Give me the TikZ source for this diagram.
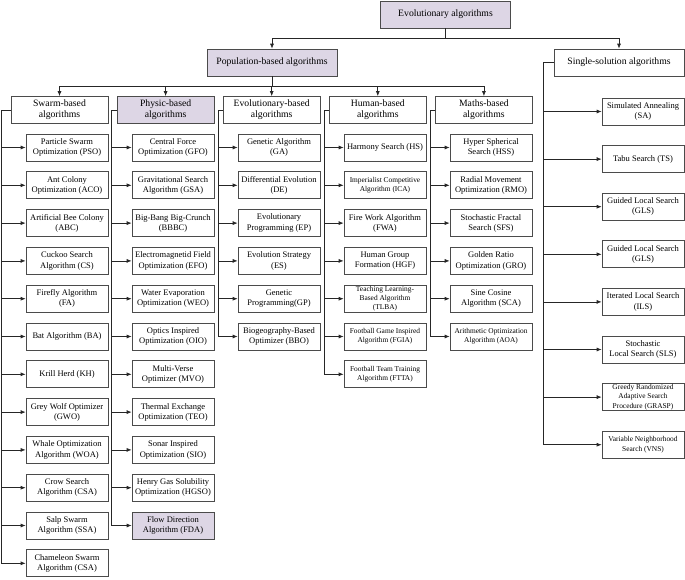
\documentclass[tikz,border=0pt]{standalone}
\usepackage{fontspec}
\setmainfont{Liberation Serif}
\usetikzlibrary{arrows.meta,positioning}

\definecolor{lavender}{RGB}{221,214,229}
\definecolor{boxgray}{RGB}{75,75,75}
\newcommand\hdfont{\fontsize{9.7}{11}\selectfont}
\newcommand\algfont{\fontsize{8.5}{10.3}\selectfont}
\newcommand\smfont{\fontsize{7.4}{9.2}\selectfont}

\tikzset{
  box/.style={draw=boxgray, line width=0.7pt, align=center, inner sep=0pt, minimum height=27pt},
  topbox/.style={box, minimum width=130pt, font=\hdfont},
  catbox/.style={box, minimum width=97pt, font=\hdfont},
  algbox/.style={box, minimum width=82pt, font=\algfont},
  algn/.style={},
  algs/.style={font=\smfont},
  hl/.style={fill=lavender},
  conn/.style={draw=black!85, line width=0.7pt, -{Latex[length=5pt,width=4pt]}},
}

\begin{document}
\begin{tikzpicture}[x=1pt, y=-1pt]
\useasboundingbox (0,0) rectangle (685,579);

    % Top levels
    \node[topbox, hl] (evo) at (445.5,14.5) {Evolutionary algorithms};
    \node[topbox, hl] (pop) at (272,62.5) {Population-based algorithms};
    \node[topbox] (single) at (619,62.5) {Single-solution algorithms};
    \draw[conn] (evo.south) -- ++(0,10) -| (pop.north);
    \draw[conn] (evo.south) -- ++(0,10) -| (single.north);

    % Population-based families
    \foreach \nm/\txt/\sty [count=\i from 0] in {
        swarm/{Swarm-based\\algorithms}/algn,
        physic/{Physic-based\\algorithms}/hl,
        evolb/{Evolutionary-based\\algorithms}/algn,
        human/{Human-based\\algorithms}/algn,
        maths/{Maths-based\\algorithms}/algn} {
      \node[catbox,\sty] (\nm) at (59.5+106.1*\i,110) {\txt};
      \draw[conn] (pop.south) -- ++(0,10) -| (\nm.north);
    }

    % Swarm-based
    \foreach \nm/\txt/\sty [count=\k from 0] in {
        pso/{Particle Swarm\\Optimization (PSO)}/algn,
        aco/{Ant Colony\\Optimization (ACO)}/algn,
        abc/{Artificial Bee Colony\\(ABC)}/algn,
        cs/{Cuckoo Search\\Algorithm (CS)}/algn,
        fa/{Firefly Algorithm\\(FA)}/algn,
        ba/{Bat Algorithm (BA)}/algn,
        kh/{Krill Herd (KH)}/algn,
        gwo/{Grey Wolf Optimizer\\(GWO)}/algn,
        woa/{Whale Optimization\\Algorithm (WOA)}/algn,
        crow/{Crow Search\\Algorithm (CSA)}/algn,
        ssa/{Salp Swarm\\Algorithm (SSA)}/algn,
        cham/{Chameleon Swarm\\Algorithm (CSA)}/algn} {
      \node[algbox,\sty] (\nm) at (67,147.5+37.8*\k) {\txt};
      \draw[conn] (swarm.west) -- ++(-9.5,0) |- (\nm.west);
    }

    % Physic-based
    \foreach \nm/\txt/\sty [count=\k from 0] in {
        gfo/{Central Force\\Optimization (GFO)}/algn,
        gsa/{Gravitational Search\\Algorithm (GSA)}/algn,
        bbbc/{Big-Bang Big-Crunch\\(BBBC)}/algn,
        efo/{Electromagnetid Field\\Optimization (EFO)}/algn,
        weo/{Water Evaporation\\Optimization (WEO)}/algn,
        oio/{Optics Inspired\\Optimization (OIO)}/algn,
        mvo/{Multi-Verse\\Optimizer (MVO)}/algn,
        teo/{Thermal Exchange\\Optimization (TEO)}/algn,
        sio/{Sonar Inspired\\Optimization (SIO)}/algn,
        hgso/{Henry Gas Solubility\\Optimization (HGSO)}/algn,
        fda/{Flow Direction\\Algorithm (FDA)}/hl} {
      \node[algbox,\sty] (\nm) at (173,147.5+37.8*\k) {\txt};
      \draw[conn] (physic.west) -- ++(-5,0) |- (\nm.west);
    }

    % Evolutionary-based
    \foreach \nm/\txt/\sty [count=\k from 0] in {
        ga/{Genetic Algorithm\\(GA)}/algn,
        de/{Differential Evolution\\(DE)}/algn,
        ep/{Evolutionary\\Programming (EP)}/algn,
        es/{Evolution Strategy\\(ES)}/algn,
        gp/{Genetic\\Programming(GP)}/algn,
        bbo/{Biogeography-Based\\Optimizer (BBO)}/algn} {
      \node[algbox,\sty] (\nm) at (279,147.5+37.8*\k) {\txt};
      \draw[conn] (evolb.west) -- ++(-4.5,0) |- (\nm.west);
    }

    % Human-based
    \foreach \nm/\txt/\sty [count=\k from 0] in {
        hs/{Harmony Search (HS)}/algn,
        ica/{Imperialist Competitive\\Algorithm (ICA)}/algs,
        fwa/{Fire Work Algorithm\\(FWA)}/algn,
        hgf/{Human Group\\Formation (HGF)}/algn,
        tlba/{Teaching Learning-\\Based Algorithm\\(TLBA)}/algs,
        fgia/{Football Game Inspired\\Algorithm (FGIA)}/algs,
        ftta/{Football Team Training\\Algorithm (FTTA)}/algs} {
      \node[algbox,\sty] (\nm) at (385,147.5+37.8*\k) {\txt};
      \draw[conn] (human.west) -- ++(-5,0) |- (\nm.west);
    }

    % Maths-based
    \foreach \nm/\txt/\sty [count=\k from 0] in {
        hss/{Hyper Spherical\\Search (HSS)}/algn,
        rmo/{Radial Movement\\Optimization (RMO)}/algn,
        sfs/{Stochastic Fractal\\Search (SFS)}/algn,
        gro/{Golden Ratio\\Optimization (GRO)}/algn,
        sca/{Sine Cosine\\Algorithm (SCA)}/algn,
        aoa/{Arithmetic Optimization\\Algorithm (AOA)}/algs} {
      \node[algbox,\sty] (\nm) at (491,147.5+37.8*\k) {\txt};
      \draw[conn] (maths.west) -- ++(-5,0) |- (\nm.west);
    }

    % Single-solution
    \foreach \nm/\txt/\sty [count=\k from 0] in {
        sa/{Simulated Annealing\\(SA)}/algn,
        ts/{Tabu Search (TS)}/algn,
        glsa/{Guided Local Search\\(GLS)}/algn,
        glsb/{Guided Local Search\\(GLS)}/algn,
        ils/{Iterated Local Search\\(ILS)}/algn,
        sls/{Stochastic\\Local Search (SLS)}/algn,
        grasp/{Greedy Randomized\\Adaptive Search\\Procedure (GRASP)}/algs,
        vns/{Variable Neighborhood\\Search (VNS)}/algs} {
      \node[algbox,\sty] (\nm) at (643,111.5+47.6*\k) {\txt};
      \draw[conn] (single.west) -- ++(-10,0) |- (\nm.west);
    }

\end{tikzpicture}
\end{document}
